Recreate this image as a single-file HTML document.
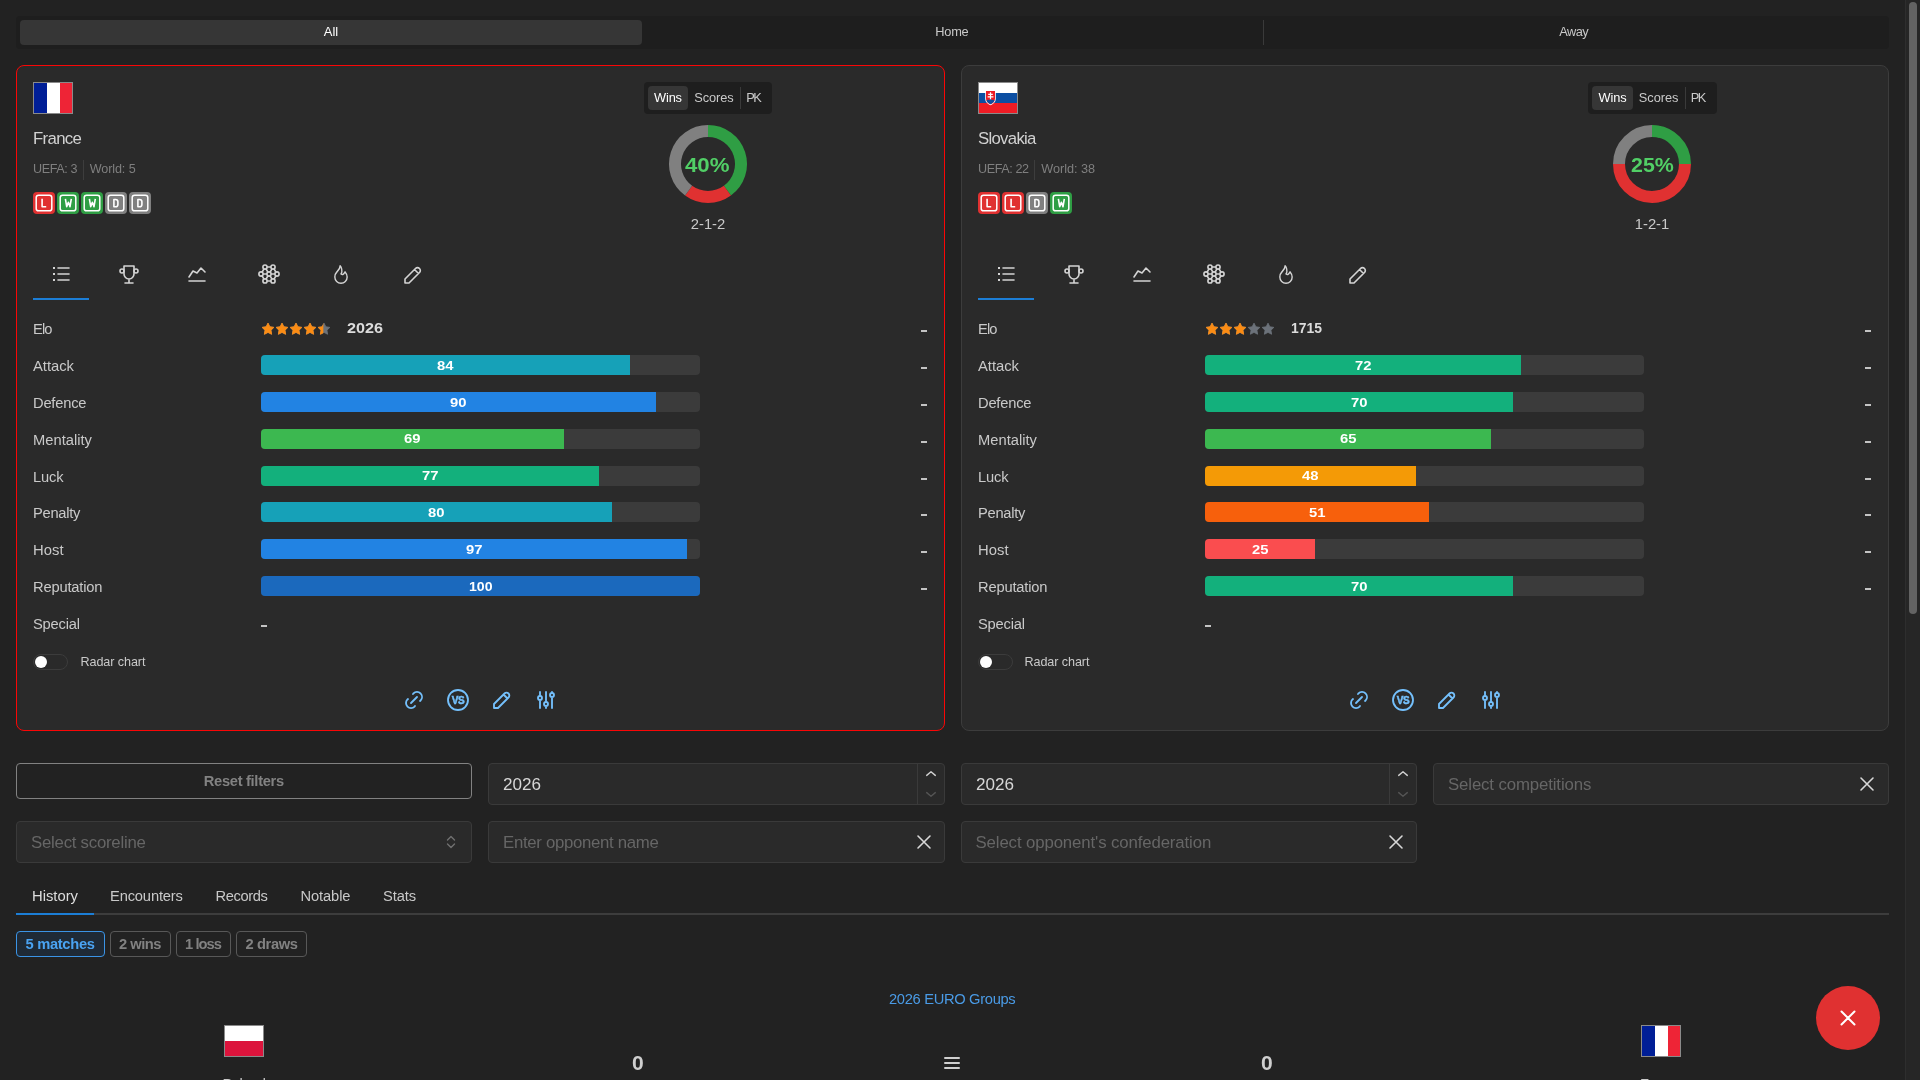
<!DOCTYPE html>
<html lang="en"><head><meta charset="utf-8"><title>Team comparison</title>
<style>
html,body{margin:0;padding:0;}
body{width:1920px;height:1080px;overflow:hidden;background:#222222;position:relative;font-family:"Liberation Sans",sans-serif;color:#c9c9c9;}
.b{position:absolute;box-sizing:border-box;display:block;}
.t{position:absolute;white-space:nowrap;line-height:1;font-family:"Liberation Sans",sans-serif;}
#root{position:absolute;left:0;top:0;width:1920px;height:1080px;will-change:transform;}
</style></head><body><div id="root">
<div class="b" style="left:16px;top:16px;width:1873px;height:33px;background:#1e1e1e;border-radius:4px;"></div>
<div class="b" style="left:20px;top:20px;width:622px;height:25px;background:#363636;border-radius:4px;"></div>
<div class="b" style="left:1263px;top:20px;width:1px;height:25px;background:#3a3a3a;"></div>
<div class="t" style="left:323.75px;top:25px;font-size:13.0px;letter-spacing:0.026px;color:#ffffff;">All</div>
<div class="t" style="left:935.25px;top:26px;font-size:12.8px;letter-spacing:-0.215px;color:#c9c9c9;">Home</div>
<div class="t" style="left:1559.25px;top:26px;font-size:12.8px;letter-spacing:-0.523px;color:#c9c9c9;">Away</div>
<div class="b" style="left:16px;top:65px;width:928.5px;height:666px;background:#2a2a2a;border:1px solid #fa0606;border-radius:8px;"></div>
<svg class="b" style="left:33px;top:82px;" width="40" height="32" viewBox="0 0 40 32"><rect width="40" height="32" fill="#8a8a8a"/><rect x="1" y="1" width="13" height="30" fill="#001e96"/><rect x="14" y="1" width="13" height="30" fill="#ffffff"/><rect x="27" y="1" width="12" height="30" fill="#ee2436"/></svg>
<div class="t" style="left:33.00px;top:131px;font-size:16.8px;letter-spacing:-0.658px;color:#d2d2d2;">France</div>
<div class="t" style="left:33.00px;top:163px;font-size:12.6px;letter-spacing:-0.403px;color:#7f7f7f;">UEFA: 3</div>
<div class="b" style="left:83px;top:160px;width:1px;height:20px;background:#3d3d3d;"></div>
<div class="t" style="left:89.70px;top:163px;font-size:12.6px;letter-spacing:-0.098px;color:#7f7f7f;">World: 5</div>
<svg class="b" style="left:33px;top:192px;" width="22" height="22" viewBox="0 0 22 22"><rect width="22" height="22" rx="4" fill="#e03131"/><rect x="3.200" y="3.200" width="15.600" height="15.600" rx="2.400" fill="none" stroke="#fff" stroke-width="1.500"/><path d="M9.100 6.700V14.700H13.200" fill="none" stroke="#fff" stroke-width="1.600" stroke-linecap="butt" stroke-linejoin="round"/></svg>
<svg class="b" style="left:57px;top:192px;" width="22" height="22" viewBox="0 0 22 22"><rect width="22" height="22" rx="4" fill="#2f9e44"/><rect x="3.200" y="3.200" width="15.600" height="15.600" rx="2.400" fill="none" stroke="#fff" stroke-width="1.500"/><path d="M8.400 6.800L9.700 14.700L11.350 10.300L13 14.700L14.300 6.800" fill="none" stroke="#fff" stroke-width="1.600" stroke-linecap="butt" stroke-linejoin="round"/></svg>
<svg class="b" style="left:81px;top:192px;" width="22" height="22" viewBox="0 0 22 22"><rect width="22" height="22" rx="4" fill="#2f9e44"/><rect x="3.200" y="3.200" width="15.600" height="15.600" rx="2.400" fill="none" stroke="#fff" stroke-width="1.500"/><path d="M8.400 6.800L9.700 14.700L11.350 10.300L13 14.700L14.300 6.800" fill="none" stroke="#fff" stroke-width="1.600" stroke-linecap="butt" stroke-linejoin="round"/></svg>
<svg class="b" style="left:105px;top:192px;" width="22" height="22" viewBox="0 0 22 22"><rect width="22" height="22" rx="4" fill="#808080"/><rect x="3.200" y="3.200" width="15.600" height="15.600" rx="2.400" fill="none" stroke="#fff" stroke-width="1.500"/><path d="M8.900 7.500V14.700H10.600Q12.900 14.700 12.900 12.400V9.800Q12.900 7.500 10.600 7.500Z" fill="none" stroke="#fff" stroke-width="1.600" stroke-linecap="butt" stroke-linejoin="round"/></svg>
<svg class="b" style="left:129px;top:192px;" width="22" height="22" viewBox="0 0 22 22"><rect width="22" height="22" rx="4" fill="#808080"/><rect x="3.200" y="3.200" width="15.600" height="15.600" rx="2.400" fill="none" stroke="#fff" stroke-width="1.500"/><path d="M8.900 7.500V14.700H10.600Q12.900 14.700 12.900 12.400V9.800Q12.900 7.500 10.600 7.500Z" fill="none" stroke="#fff" stroke-width="1.600" stroke-linecap="butt" stroke-linejoin="round"/></svg>
<div class="b" style="left:644px;top:82px;width:128px;height:32px;background:#1e1e1e;border-radius:4px;"></div>
<div class="b" style="left:648px;top:86px;width:40px;height:24px;background:#363636;border-radius:4px;"></div>
<div class="b" style="left:740px;top:87px;width:1px;height:22px;background:#3a3a3a;"></div>
<div class="t" style="left:654.00px;top:92px;font-size:12.8px;letter-spacing:-0.148px;color:#ffffff;">Wins</div>
<div class="t" style="left:694.25px;top:92px;font-size:12.8px;letter-spacing:-0.068px;color:#c9c9c9;">Scores</div>
<div class="t" style="left:746.25px;top:92px;font-size:12.8px;letter-spacing:-1.576px;color:#c9c9c9;">PK</div>
<svg class="b" style="left:0;top:0" width="1920" height="300" viewBox="0 0 1920 300"><path d="M708.000 131.000A33 33 0 0 1 727.397 190.698" fill="none" stroke="#2f9e44" stroke-width="12"/><path d="M727.397 190.698A33 33 0 0 1 688.603 190.698" fill="none" stroke="#e03131" stroke-width="12"/><path d="M688.603 190.698A33 33 0 0 1 708.000 131.000" fill="none" stroke="#808080" stroke-width="12"/></svg>
<div class="t" style="left:685.35px;top:156px;font-size:19.5px;color:#51cf66;transform-origin:0 0;transform:scaleX(1.1402);font-weight:700;">40%</div>
<div class="t" style="left:690.75px;top:217px;font-size:14.8px;letter-spacing:-0.013px;color:#c9c9c9;">2-1-2</div>
<svg class="b" style="left:49px;top:262px;" width="24" height="24" viewBox="0 0 24 24"><g fill="none" stroke="#d4d4d4" stroke-width="1.6" stroke-linecap="round" stroke-linejoin="round" stroke-width="2"><path d="M9 6h11M9 12h11M9 18h11"/></g><rect x="4" y="5" width="2" height="2" fill="#d4d4d4"/><rect x="4" y="11" width="2" height="2" fill="#d4d4d4"/><rect x="4" y="17" width="2" height="2" fill="#d4d4d4"/></svg>
<svg class="b" style="left:117px;top:262px;" width="24" height="24" viewBox="0 0 24 24"><g fill="none" stroke="#d4d4d4" stroke-width="1.6" stroke-linecap="round" stroke-linejoin="round"><path d="M8 21h8M12 17v4M7 4h10M17 4v8a5 5 0 0 1-10 0V4"/><circle cx="5" cy="9" r="2"/><circle cx="19" cy="9" r="2"/></g></svg>
<svg class="b" style="left:185px;top:262px;" width="24" height="24" viewBox="0 0 24 24"><g fill="none" stroke="#d4d4d4" stroke-width="1.6" stroke-linecap="round" stroke-linejoin="round"><path d="M4 19h16M4 15l4-6 4 2 4-5 4 4"/></g></svg>
<svg class="b" style="left:257px;top:262px;" width="24" height="24" viewBox="0 0 24 24"><g fill="none" stroke="#d4d4d4" stroke-width="1.6" stroke-linecap="round" stroke-linejoin="round"><path d="M20.00 12.00L12.00 12.00M20.00 12.00L16.00 18.93"/><path d="M16.00 18.93L12.00 12.00M16.00 18.93L8.00 18.93"/><path d="M8.00 18.93L12.00 12.00M8.00 18.93L4.00 12.00"/><path d="M4.00 12.00L12.00 12.00M4.00 12.00L8.00 5.07"/><path d="M8.00 5.07L12.00 12.00M8.00 5.07L16.00 5.07"/><path d="M16.00 5.07L12.00 12.00M16.00 5.07L20.00 12.00"/><circle cx="12.00" cy="12.00" r="2.1" fill="#2a2a2a"/><circle cx="20.00" cy="12.00" r="2.1" fill="#2a2a2a"/><circle cx="16.00" cy="18.93" r="2.1" fill="#2a2a2a"/><circle cx="8.00" cy="18.93" r="2.1" fill="#2a2a2a"/><circle cx="4.00" cy="12.00" r="2.1" fill="#2a2a2a"/><circle cx="8.00" cy="5.07" r="2.1" fill="#2a2a2a"/><circle cx="16.00" cy="5.07" r="2.1" fill="#2a2a2a"/></g></svg>
<svg class="b" style="left:329px;top:263px;" width="24" height="24" viewBox="0 0 24 24"><g fill="none" stroke="#d4d4d4" stroke-width="1.6" stroke-linecap="round" stroke-linejoin="round" transform="translate(12 11.500) scale(0.880 0.930) translate(-12 -11.500)" stroke-width="2.050"><path d="M12 10.941c2.333-3.308.167-7.823-1-8.941 0 3.395-2.235 5.299-3.667 6.706C5.903 10.114 5 12.327 5 14.294 5 17.998 8.134 21 12 21s7-3.002 7-6.706c0-1.712-1.232-4.403-2.333-5.588-2.084 3.353-3.257 3.353-4.667 2.235"/></g></svg>
<svg class="b" style="left:400.5px;top:262.5px;" width="24" height="24" viewBox="0 0 24 24"><g fill="none" stroke="#d4d4d4" stroke-width="1.6" stroke-linecap="round" stroke-linejoin="round"><path d="M4 20h4L18.5 9.5a2.828 2.828 0 1 0-4-4L4 16v4M13.5 6.5l4 4"/></g></svg>
<div class="b" style="left:33px;top:298px;width:56px;height:2px;background:#1c7ed6;"></div>
<div class="t" style="left:33.00px;top:322px;font-size:14.7px;letter-spacing:-0.874px;color:#c9c9c9;">Elo</div>
<div class="b" style="left:921px;top:330px;width:6px;height:2px;background:#c4c4c4;"></div>
<div class="t" style="left:33.00px;top:359px;font-size:14.8px;letter-spacing:-0.025px;color:#c9c9c9;">Attack</div>
<div class="b" style="left:921px;top:367px;width:6px;height:2px;background:#c4c4c4;"></div>
<div class="t" style="left:33.00px;top:396px;font-size:14.7px;letter-spacing:-0.209px;color:#c9c9c9;">Defence</div>
<div class="b" style="left:921px;top:404px;width:6px;height:2px;background:#c4c4c4;"></div>
<div class="t" style="left:33.00px;top:433px;font-size:14.7px;letter-spacing:0.022px;color:#c9c9c9;">Mentality</div>
<div class="b" style="left:921px;top:441px;width:6px;height:2px;background:#c4c4c4;"></div>
<div class="t" style="left:33.00px;top:470px;font-size:14.7px;letter-spacing:-0.184px;color:#c9c9c9;">Luck</div>
<div class="b" style="left:921px;top:478px;width:6px;height:2px;background:#c4c4c4;"></div>
<div class="t" style="left:33.00px;top:506px;font-size:14.7px;letter-spacing:-0.255px;color:#c9c9c9;">Penalty</div>
<div class="b" style="left:921px;top:514px;width:6px;height:2px;background:#c4c4c4;"></div>
<div class="t" style="left:33.00px;top:543px;font-size:14.8px;letter-spacing:0.023px;color:#c9c9c9;">Host</div>
<div class="b" style="left:921px;top:551px;width:6px;height:2px;background:#c4c4c4;"></div>
<div class="t" style="left:33.00px;top:580px;font-size:14.7px;letter-spacing:-0.178px;color:#c9c9c9;">Reputation</div>
<div class="b" style="left:921px;top:588px;width:6px;height:2px;background:#c4c4c4;"></div>
<div class="t" style="left:33.00px;top:617px;font-size:14.7px;letter-spacing:-0.202px;color:#c9c9c9;">Special</div>
<svg class="b" style="left:261px;top:322px;" width="14" height="14" viewBox="0 0 24 24"><path d="M12 17.75l-6.172 3.245 1.179-6.873-5-4.867 6.9-1L12 2.002l3.086 6.253 6.9 1-5 4.867 1.179 6.873z" fill="#6c727a" stroke="#6c727a" stroke-width="1.5" stroke-linejoin="round"/><clipPath id="c261_0"><rect x="0" y="0" width="24.00" height="24"/></clipPath><path clip-path="url(#c261_0)" d="M12 17.75l-6.172 3.245 1.179-6.873-5-4.867 6.9-1L12 2.002l3.086 6.253 6.9 1-5 4.867 1.179 6.873z" fill="#fb8c14" stroke="#fb8c14" stroke-width="1.5" stroke-linejoin="round"/></svg>
<svg class="b" style="left:275px;top:322px;" width="14" height="14" viewBox="0 0 24 24"><path d="M12 17.75l-6.172 3.245 1.179-6.873-5-4.867 6.9-1L12 2.002l3.086 6.253 6.9 1-5 4.867 1.179 6.873z" fill="#6c727a" stroke="#6c727a" stroke-width="1.5" stroke-linejoin="round"/><clipPath id="c261_1"><rect x="0" y="0" width="24.00" height="24"/></clipPath><path clip-path="url(#c261_1)" d="M12 17.75l-6.172 3.245 1.179-6.873-5-4.867 6.9-1L12 2.002l3.086 6.253 6.9 1-5 4.867 1.179 6.873z" fill="#fb8c14" stroke="#fb8c14" stroke-width="1.5" stroke-linejoin="round"/></svg>
<svg class="b" style="left:289px;top:322px;" width="14" height="14" viewBox="0 0 24 24"><path d="M12 17.75l-6.172 3.245 1.179-6.873-5-4.867 6.9-1L12 2.002l3.086 6.253 6.9 1-5 4.867 1.179 6.873z" fill="#6c727a" stroke="#6c727a" stroke-width="1.5" stroke-linejoin="round"/><clipPath id="c261_2"><rect x="0" y="0" width="24.00" height="24"/></clipPath><path clip-path="url(#c261_2)" d="M12 17.75l-6.172 3.245 1.179-6.873-5-4.867 6.9-1L12 2.002l3.086 6.253 6.9 1-5 4.867 1.179 6.873z" fill="#fb8c14" stroke="#fb8c14" stroke-width="1.5" stroke-linejoin="round"/></svg>
<svg class="b" style="left:303px;top:322px;" width="14" height="14" viewBox="0 0 24 24"><path d="M12 17.75l-6.172 3.245 1.179-6.873-5-4.867 6.9-1L12 2.002l3.086 6.253 6.9 1-5 4.867 1.179 6.873z" fill="#6c727a" stroke="#6c727a" stroke-width="1.5" stroke-linejoin="round"/><clipPath id="c261_3"><rect x="0" y="0" width="24.00" height="24"/></clipPath><path clip-path="url(#c261_3)" d="M12 17.75l-6.172 3.245 1.179-6.873-5-4.867 6.9-1L12 2.002l3.086 6.253 6.9 1-5 4.867 1.179 6.873z" fill="#fb8c14" stroke="#fb8c14" stroke-width="1.5" stroke-linejoin="round"/></svg>
<svg class="b" style="left:317px;top:322px;" width="14" height="14" viewBox="0 0 24 24"><path d="M12 17.75l-6.172 3.245 1.179-6.873-5-4.867 6.9-1L12 2.002l3.086 6.253 6.9 1-5 4.867 1.179 6.873z" fill="#6c727a" stroke="#6c727a" stroke-width="1.5" stroke-linejoin="round"/><clipPath id="c261_4"><rect x="0" y="0" width="10.80" height="24"/></clipPath><path clip-path="url(#c261_4)" d="M12 17.75l-6.172 3.245 1.179-6.873-5-4.867 6.9-1L12 2.002l3.086 6.253 6.9 1-5 4.867 1.179 6.873z" fill="#fb8c14" stroke="#fb8c14" stroke-width="1.5" stroke-linejoin="round"/></svg>
<div class="t" style="left:346.50px;top:321px;font-size:14.6px;color:#dcdcdc;transform-origin:0 0;transform:scaleX(1.1084);font-weight:700;">2026</div>
<div class="b" style="left:261px;top:355px;width:439px;height:20px;background:#3b3b3b;border-radius:4px;"></div>
<div class="b" style="left:261px;top:355px;width:369px;height:20px;background:#16a1b8;border-radius:4px 0 0 4px;"></div>
<div class="t" style="left:437.25px;top:359px;font-size:13.2px;color:#ffffff;transform-origin:0 0;transform:scaleX(1.1238);font-weight:700;">84</div>
<div class="b" style="left:261px;top:392px;width:439px;height:20px;background:#3b3b3b;border-radius:4px;"></div>
<div class="b" style="left:261px;top:392px;width:395px;height:20px;background:#2283e3;border-radius:4px 0 0 4px;"></div>
<div class="t" style="left:450.25px;top:396px;font-size:13.2px;color:#ffffff;transform-origin:0 0;transform:scaleX(1.1238);font-weight:700;">90</div>
<div class="b" style="left:261px;top:429px;width:439px;height:20px;background:#3b3b3b;border-radius:4px;"></div>
<div class="b" style="left:261px;top:429px;width:303px;height:20px;background:#3cb850;border-radius:4px 0 0 4px;"></div>
<div class="t" style="left:404.25px;top:432px;font-size:13.2px;color:#ffffff;transform-origin:0 0;transform:scaleX(1.1238);font-weight:700;">69</div>
<div class="b" style="left:261px;top:466px;width:439px;height:20px;background:#3b3b3b;border-radius:4px;"></div>
<div class="b" style="left:261px;top:466px;width:338px;height:20px;background:#13b07c;border-radius:4px 0 0 4px;"></div>
<div class="t" style="left:421.75px;top:469px;font-size:13.2px;color:#ffffff;transform-origin:0 0;transform:scaleX(1.1238);font-weight:700;">77</div>
<div class="b" style="left:261px;top:502px;width:439px;height:20px;background:#3b3b3b;border-radius:4px;"></div>
<div class="b" style="left:261px;top:502px;width:351px;height:20px;background:#16a1b8;border-radius:4px 0 0 4px;"></div>
<div class="t" style="left:428.25px;top:506px;font-size:13.2px;color:#ffffff;transform-origin:0 0;transform:scaleX(1.1238);font-weight:700;">80</div>
<div class="b" style="left:261px;top:539px;width:439px;height:20px;background:#3b3b3b;border-radius:4px;"></div>
<div class="b" style="left:261px;top:539px;width:426px;height:20px;background:#2283e3;border-radius:4px 0 0 4px;"></div>
<div class="t" style="left:465.75px;top:543px;font-size:13.2px;color:#ffffff;transform-origin:0 0;transform:scaleX(1.1238);font-weight:700;">97</div>
<div class="b" style="left:261px;top:576px;width:439px;height:20px;background:#3b3b3b;border-radius:4px;"></div>
<div class="b" style="left:261px;top:576px;width:439px;height:20px;background:#1b69bd;border-radius:4px;"></div>
<div class="t" style="left:468.75px;top:580px;font-size:13.2px;color:#ffffff;transform-origin:0 0;transform:scaleX(1.0670);font-weight:700;">100</div>
<div class="b" style="left:261px;top:625px;width:6px;height:2px;background:#c4c4c4;"></div>
<div class="b" style="left:33px;top:654px;width:35px;height:16px;background:#2a2a2a;border:1px solid #3c3c3c;border-radius:8px;"></div>
<div class="b" style="left:35px;top:656px;width:12px;height:12px;background:#ffffff;border-radius:6px;"></div>
<div class="t" style="left:80.50px;top:656px;font-size:12.6px;letter-spacing:-0.083px;color:#c9c9c9;">Radar chart</div>
<svg class="b" style="left:402px;top:688px;" width="24" height="24" viewBox="0 0 24 24"><g fill="none" stroke="#74c0fc" stroke-width="1.850" stroke-linecap="round" stroke-linejoin="round"><path d="M9 15l6-6M11 6l.463-.536a5 5 0 0 1 7.071 7.072L18 13M13 18l-.397.534a5.068 5.068 0 0 1-7.127 0 4.972 4.972 0 0 1 0-7.071L6 11"/></g></svg>
<svg class="b" style="left:446px;top:688px;" width="24" height="24" viewBox="0 0 24 24"><g fill="none" stroke="#74c0fc" stroke-width="1.850" stroke-linecap="round" stroke-linejoin="round"><circle cx="12" cy="12" r="10"/></g><text x="12" y="15.6" text-anchor="middle" font-family="Liberation Sans, sans-serif" font-weight="700" font-size="10" letter-spacing="-0.300" fill="#74c0fc" stroke="#74c0fc" stroke-width="0.450">VS</text></svg>
<svg class="b" style="left:490px;top:688px;" width="24" height="24" viewBox="0 0 24 24"><g fill="none" stroke="#74c0fc" stroke-width="1.850" stroke-linecap="round" stroke-linejoin="round"><path d="M4 20h4L18.5 9.5a2.828 2.828 0 1 0-4-4L4 16v4M13.5 6.5l4 4"/></g></svg>
<svg class="b" style="left:534px;top:688px;" width="24" height="24" viewBox="0 0 24 24"><g fill="none" stroke="#74c0fc" stroke-width="1.850" stroke-linecap="round" stroke-linejoin="round"><path d="M4 10a2 2 0 1 0 4 0a2 2 0 0 0-4 0M6 4v4M6 12v8M10 16a2 2 0 1 0 4 0a2 2 0 0 0-4 0M12 4v10M12 18v2M16 7a2 2 0 1 0 4 0a2 2 0 0 0-4 0M18 4v1M18 9v11"/></g></svg>
<div class="b" style="left:960.5px;top:65px;width:928.5px;height:666px;background:#2a2a2a;border:1px solid #3c3c3c;border-radius:8px;"></div>
<svg class="b" style="left:978px;top:82px;" width="40" height="32" viewBox="0 0 40 32"><rect width="40" height="32" fill="#8a8a8a"/><rect x="1" y="1" width="38" height="10" fill="#ffffff"/><rect x="1" y="11" width="38" height="10" fill="#0b4ea2"/><rect x="1" y="21" width="38" height="10" fill="#ee1c25"/><path d="M7.2 8.2h10.6v8.2c0 3.6-2.6 5.6-5.3 6.8-2.7-1.2-5.3-3.2-5.3-6.8z" fill="#ffffff"/><path d="M8 9h9v7.4c0 3-2.1 4.8-4.5 5.9C10.100 21.2 8 19.400 8 16.400z" fill="#ee1c25"/><path d="M11.900 10.200h1.200v1.600h1.700v1.100h-1.700v1.300h2.300v1.200h-2.300v3h-1.200v-3H9.600v-1.200h2.300v-1.300h-1.700v-1.100h1.700z" fill="#ffffff"/><path d="M8.500 18.600c.8-1 1.700-1.200 2.500-.5.700-1 2.100-1 3 0 .8-.7 1.700-.5 2.500.5-.8 1.700-2.300 2.900-4 3.700-1.700-.8-3.200-2-4-3.700z" fill="#0b4ea2"/></svg>
<div class="t" style="left:978.00px;top:131px;font-size:16.8px;letter-spacing:-0.715px;color:#d2d2d2;">Slovakia</div>
<div class="t" style="left:978.00px;top:163px;font-size:12.6px;letter-spacing:-0.418px;color:#7f7f7f;">UEFA: 22</div>
<div class="b" style="left:1034px;top:160px;width:1px;height:20px;background:#3d3d3d;"></div>
<div class="t" style="left:1041.20px;top:163px;font-size:12.7px;letter-spacing:-0.015px;color:#7f7f7f;">World: 38</div>
<svg class="b" style="left:978px;top:192px;" width="22" height="22" viewBox="0 0 22 22"><rect width="22" height="22" rx="4" fill="#e03131"/><rect x="3.200" y="3.200" width="15.600" height="15.600" rx="2.400" fill="none" stroke="#fff" stroke-width="1.500"/><path d="M9.100 6.700V14.700H13.200" fill="none" stroke="#fff" stroke-width="1.600" stroke-linecap="butt" stroke-linejoin="round"/></svg>
<svg class="b" style="left:1002px;top:192px;" width="22" height="22" viewBox="0 0 22 22"><rect width="22" height="22" rx="4" fill="#e03131"/><rect x="3.200" y="3.200" width="15.600" height="15.600" rx="2.400" fill="none" stroke="#fff" stroke-width="1.500"/><path d="M9.100 6.700V14.700H13.200" fill="none" stroke="#fff" stroke-width="1.600" stroke-linecap="butt" stroke-linejoin="round"/></svg>
<svg class="b" style="left:1026px;top:192px;" width="22" height="22" viewBox="0 0 22 22"><rect width="22" height="22" rx="4" fill="#808080"/><rect x="3.200" y="3.200" width="15.600" height="15.600" rx="2.400" fill="none" stroke="#fff" stroke-width="1.500"/><path d="M8.900 7.500V14.700H10.600Q12.900 14.700 12.900 12.400V9.800Q12.900 7.500 10.600 7.500Z" fill="none" stroke="#fff" stroke-width="1.600" stroke-linecap="butt" stroke-linejoin="round"/></svg>
<svg class="b" style="left:1050px;top:192px;" width="22" height="22" viewBox="0 0 22 22"><rect width="22" height="22" rx="4" fill="#2f9e44"/><rect x="3.200" y="3.200" width="15.600" height="15.600" rx="2.400" fill="none" stroke="#fff" stroke-width="1.500"/><path d="M8.400 6.800L9.700 14.700L11.350 10.300L13 14.700L14.300 6.800" fill="none" stroke="#fff" stroke-width="1.600" stroke-linecap="butt" stroke-linejoin="round"/></svg>
<div class="b" style="left:1588px;top:82px;width:129px;height:32px;background:#1e1e1e;border-radius:4px;"></div>
<div class="b" style="left:1592px;top:86px;width:41px;height:24px;background:#363636;border-radius:4px;"></div>
<div class="b" style="left:1685px;top:87px;width:1px;height:22px;background:#3a3a3a;"></div>
<div class="t" style="left:1598.60px;top:92px;font-size:12.8px;letter-spacing:-0.148px;color:#ffffff;">Wins</div>
<div class="t" style="left:1638.85px;top:92px;font-size:12.8px;letter-spacing:-0.068px;color:#c9c9c9;">Scores</div>
<div class="t" style="left:1690.85px;top:92px;font-size:12.8px;letter-spacing:-1.576px;color:#c9c9c9;">PK</div>
<svg class="b" style="left:0;top:0" width="1920" height="300" viewBox="0 0 1920 300"><path d="M1652.000 131.000A33 33 0 0 1 1685.000 164.000" fill="none" stroke="#2f9e44" stroke-width="12"/><path d="M1685.000 164.000A33 33 0 0 1 1619.000 164.000" fill="none" stroke="#e03131" stroke-width="12"/><path d="M1619.000 164.000A33 33 0 0 1 1652.000 131.000" fill="none" stroke="#808080" stroke-width="12"/></svg>
<div class="t" style="left:1630.90px;top:156px;font-size:19.5px;color:#51cf66;transform-origin:0 0;transform:scaleX(1.0966);font-weight:700;">25%</div>
<div class="t" style="left:1634.75px;top:217px;font-size:14.8px;letter-spacing:-0.013px;color:#c9c9c9;">1-2-1</div>
<svg class="b" style="left:994px;top:262px;" width="24" height="24" viewBox="0 0 24 24"><g fill="none" stroke="#d4d4d4" stroke-width="1.6" stroke-linecap="round" stroke-linejoin="round" stroke-width="2"><path d="M9 6h11M9 12h11M9 18h11"/></g><rect x="4" y="5" width="2" height="2" fill="#d4d4d4"/><rect x="4" y="11" width="2" height="2" fill="#d4d4d4"/><rect x="4" y="17" width="2" height="2" fill="#d4d4d4"/></svg>
<svg class="b" style="left:1062px;top:262px;" width="24" height="24" viewBox="0 0 24 24"><g fill="none" stroke="#d4d4d4" stroke-width="1.6" stroke-linecap="round" stroke-linejoin="round"><path d="M8 21h8M12 17v4M7 4h10M17 4v8a5 5 0 0 1-10 0V4"/><circle cx="5" cy="9" r="2"/><circle cx="19" cy="9" r="2"/></g></svg>
<svg class="b" style="left:1130px;top:262px;" width="24" height="24" viewBox="0 0 24 24"><g fill="none" stroke="#d4d4d4" stroke-width="1.6" stroke-linecap="round" stroke-linejoin="round"><path d="M4 19h16M4 15l4-6 4 2 4-5 4 4"/></g></svg>
<svg class="b" style="left:1202px;top:262px;" width="24" height="24" viewBox="0 0 24 24"><g fill="none" stroke="#d4d4d4" stroke-width="1.6" stroke-linecap="round" stroke-linejoin="round"><path d="M20.00 12.00L12.00 12.00M20.00 12.00L16.00 18.93"/><path d="M16.00 18.93L12.00 12.00M16.00 18.93L8.00 18.93"/><path d="M8.00 18.93L12.00 12.00M8.00 18.93L4.00 12.00"/><path d="M4.00 12.00L12.00 12.00M4.00 12.00L8.00 5.07"/><path d="M8.00 5.07L12.00 12.00M8.00 5.07L16.00 5.07"/><path d="M16.00 5.07L12.00 12.00M16.00 5.07L20.00 12.00"/><circle cx="12.00" cy="12.00" r="2.1" fill="#2a2a2a"/><circle cx="20.00" cy="12.00" r="2.1" fill="#2a2a2a"/><circle cx="16.00" cy="18.93" r="2.1" fill="#2a2a2a"/><circle cx="8.00" cy="18.93" r="2.1" fill="#2a2a2a"/><circle cx="4.00" cy="12.00" r="2.1" fill="#2a2a2a"/><circle cx="8.00" cy="5.07" r="2.1" fill="#2a2a2a"/><circle cx="16.00" cy="5.07" r="2.1" fill="#2a2a2a"/></g></svg>
<svg class="b" style="left:1274px;top:263px;" width="24" height="24" viewBox="0 0 24 24"><g fill="none" stroke="#d4d4d4" stroke-width="1.6" stroke-linecap="round" stroke-linejoin="round" transform="translate(12 11.500) scale(0.880 0.930) translate(-12 -11.500)" stroke-width="2.050"><path d="M12 10.941c2.333-3.308.167-7.823-1-8.941 0 3.395-2.235 5.299-3.667 6.706C5.903 10.114 5 12.327 5 14.294 5 17.998 8.134 21 12 21s7-3.002 7-6.706c0-1.712-1.232-4.403-2.333-5.588-2.084 3.353-3.257 3.353-4.667 2.235"/></g></svg>
<svg class="b" style="left:1345.5px;top:262.5px;" width="24" height="24" viewBox="0 0 24 24"><g fill="none" stroke="#d4d4d4" stroke-width="1.6" stroke-linecap="round" stroke-linejoin="round"><path d="M4 20h4L18.5 9.5a2.828 2.828 0 1 0-4-4L4 16v4M13.5 6.5l4 4"/></g></svg>
<div class="b" style="left:978px;top:298px;width:56px;height:2px;background:#1c7ed6;"></div>
<div class="t" style="left:978.00px;top:322px;font-size:14.7px;letter-spacing:-0.874px;color:#c9c9c9;">Elo</div>
<div class="b" style="left:1865px;top:330px;width:6px;height:2px;background:#c4c4c4;"></div>
<div class="t" style="left:978.00px;top:359px;font-size:14.8px;letter-spacing:-0.025px;color:#c9c9c9;">Attack</div>
<div class="b" style="left:1865px;top:367px;width:6px;height:2px;background:#c4c4c4;"></div>
<div class="t" style="left:978.00px;top:396px;font-size:14.7px;letter-spacing:-0.209px;color:#c9c9c9;">Defence</div>
<div class="b" style="left:1865px;top:404px;width:6px;height:2px;background:#c4c4c4;"></div>
<div class="t" style="left:978.00px;top:433px;font-size:14.7px;letter-spacing:0.022px;color:#c9c9c9;">Mentality</div>
<div class="b" style="left:1865px;top:441px;width:6px;height:2px;background:#c4c4c4;"></div>
<div class="t" style="left:978.00px;top:470px;font-size:14.7px;letter-spacing:-0.184px;color:#c9c9c9;">Luck</div>
<div class="b" style="left:1865px;top:478px;width:6px;height:2px;background:#c4c4c4;"></div>
<div class="t" style="left:978.00px;top:506px;font-size:14.7px;letter-spacing:-0.255px;color:#c9c9c9;">Penalty</div>
<div class="b" style="left:1865px;top:514px;width:6px;height:2px;background:#c4c4c4;"></div>
<div class="t" style="left:978.00px;top:543px;font-size:14.8px;letter-spacing:0.023px;color:#c9c9c9;">Host</div>
<div class="b" style="left:1865px;top:551px;width:6px;height:2px;background:#c4c4c4;"></div>
<div class="t" style="left:978.00px;top:580px;font-size:14.7px;letter-spacing:-0.178px;color:#c9c9c9;">Reputation</div>
<div class="b" style="left:1865px;top:588px;width:6px;height:2px;background:#c4c4c4;"></div>
<div class="t" style="left:978.00px;top:617px;font-size:14.7px;letter-spacing:-0.202px;color:#c9c9c9;">Special</div>
<svg class="b" style="left:1205px;top:322px;" width="14" height="14" viewBox="0 0 24 24"><path d="M12 17.75l-6.172 3.245 1.179-6.873-5-4.867 6.9-1L12 2.002l3.086 6.253 6.9 1-5 4.867 1.179 6.873z" fill="#6c727a" stroke="#6c727a" stroke-width="1.5" stroke-linejoin="round"/><clipPath id="c1205_0"><rect x="0" y="0" width="24.00" height="24"/></clipPath><path clip-path="url(#c1205_0)" d="M12 17.75l-6.172 3.245 1.179-6.873-5-4.867 6.9-1L12 2.002l3.086 6.253 6.9 1-5 4.867 1.179 6.873z" fill="#fb8c14" stroke="#fb8c14" stroke-width="1.5" stroke-linejoin="round"/></svg>
<svg class="b" style="left:1219px;top:322px;" width="14" height="14" viewBox="0 0 24 24"><path d="M12 17.75l-6.172 3.245 1.179-6.873-5-4.867 6.9-1L12 2.002l3.086 6.253 6.9 1-5 4.867 1.179 6.873z" fill="#6c727a" stroke="#6c727a" stroke-width="1.5" stroke-linejoin="round"/><clipPath id="c1205_1"><rect x="0" y="0" width="24.00" height="24"/></clipPath><path clip-path="url(#c1205_1)" d="M12 17.75l-6.172 3.245 1.179-6.873-5-4.867 6.9-1L12 2.002l3.086 6.253 6.9 1-5 4.867 1.179 6.873z" fill="#fb8c14" stroke="#fb8c14" stroke-width="1.5" stroke-linejoin="round"/></svg>
<svg class="b" style="left:1233px;top:322px;" width="14" height="14" viewBox="0 0 24 24"><path d="M12 17.75l-6.172 3.245 1.179-6.873-5-4.867 6.9-1L12 2.002l3.086 6.253 6.9 1-5 4.867 1.179 6.873z" fill="#6c727a" stroke="#6c727a" stroke-width="1.5" stroke-linejoin="round"/><clipPath id="c1205_2"><rect x="0" y="0" width="24.00" height="24"/></clipPath><path clip-path="url(#c1205_2)" d="M12 17.75l-6.172 3.245 1.179-6.873-5-4.867 6.9-1L12 2.002l3.086 6.253 6.9 1-5 4.867 1.179 6.873z" fill="#fb8c14" stroke="#fb8c14" stroke-width="1.5" stroke-linejoin="round"/></svg>
<svg class="b" style="left:1247px;top:322px;" width="14" height="14" viewBox="0 0 24 24"><path d="M12 17.75l-6.172 3.245 1.179-6.873-5-4.867 6.9-1L12 2.002l3.086 6.253 6.9 1-5 4.867 1.179 6.873z" fill="#6c727a" stroke="#6c727a" stroke-width="1.5" stroke-linejoin="round"/></svg>
<svg class="b" style="left:1261px;top:322px;" width="14" height="14" viewBox="0 0 24 24"><path d="M12 17.75l-6.172 3.245 1.179-6.873-5-4.867 6.9-1L12 2.002l3.086 6.253 6.9 1-5 4.867 1.179 6.873z" fill="#6c727a" stroke="#6c727a" stroke-width="1.5" stroke-linejoin="round"/></svg>
<div class="t" style="left:1290.50px;top:321px;font-size:14.6px;color:#dcdcdc;transform-origin:0 0;transform:scaleX(0.9544);font-weight:700;">1715</div>
<div class="b" style="left:1205px;top:355px;width:439px;height:20px;background:#3b3b3b;border-radius:4px;"></div>
<div class="b" style="left:1205px;top:355px;width:316px;height:20px;background:#13b07c;border-radius:4px 0 0 4px;"></div>
<div class="t" style="left:1354.75px;top:359px;font-size:13.2px;color:#ffffff;transform-origin:0 0;transform:scaleX(1.1238);font-weight:700;">72</div>
<div class="b" style="left:1205px;top:392px;width:439px;height:20px;background:#3b3b3b;border-radius:4px;"></div>
<div class="b" style="left:1205px;top:392px;width:308px;height:20px;background:#13b07c;border-radius:4px 0 0 4px;"></div>
<div class="t" style="left:1350.75px;top:396px;font-size:13.2px;color:#ffffff;transform-origin:0 0;transform:scaleX(1.1238);font-weight:700;">70</div>
<div class="b" style="left:1205px;top:429px;width:439px;height:20px;background:#3b3b3b;border-radius:4px;"></div>
<div class="b" style="left:1205px;top:429px;width:286px;height:20px;background:#3cb850;border-radius:4px 0 0 4px;"></div>
<div class="t" style="left:1339.75px;top:432px;font-size:13.2px;color:#ffffff;transform-origin:0 0;transform:scaleX(1.1238);font-weight:700;">65</div>
<div class="b" style="left:1205px;top:466px;width:439px;height:20px;background:#3b3b3b;border-radius:4px;"></div>
<div class="b" style="left:1205px;top:466px;width:211px;height:20px;background:#f49a06;border-radius:4px 0 0 4px;"></div>
<div class="t" style="left:1302.25px;top:469px;font-size:13.2px;color:#ffffff;transform-origin:0 0;transform:scaleX(1.1238);font-weight:700;">48</div>
<div class="b" style="left:1205px;top:502px;width:439px;height:20px;background:#3b3b3b;border-radius:4px;"></div>
<div class="b" style="left:1205px;top:502px;width:224px;height:20px;background:#f7600c;border-radius:4px 0 0 4px;"></div>
<div class="t" style="left:1308.75px;top:506px;font-size:13.2px;color:#ffffff;transform-origin:0 0;transform:scaleX(1.1238);font-weight:700;">51</div>
<div class="b" style="left:1205px;top:539px;width:439px;height:20px;background:#3b3b3b;border-radius:4px;"></div>
<div class="b" style="left:1205px;top:539px;width:110px;height:20px;background:#fa4d4f;border-radius:4px 0 0 4px;"></div>
<div class="t" style="left:1251.75px;top:543px;font-size:13.2px;color:#ffffff;transform-origin:0 0;transform:scaleX(1.1238);font-weight:700;">25</div>
<div class="b" style="left:1205px;top:576px;width:439px;height:20px;background:#3b3b3b;border-radius:4px;"></div>
<div class="b" style="left:1205px;top:576px;width:308px;height:20px;background:#13b07c;border-radius:4px 0 0 4px;"></div>
<div class="t" style="left:1350.75px;top:580px;font-size:13.2px;color:#ffffff;transform-origin:0 0;transform:scaleX(1.1238);font-weight:700;">70</div>
<div class="b" style="left:1205px;top:625px;width:6px;height:2px;background:#c4c4c4;"></div>
<div class="b" style="left:978px;top:654px;width:35px;height:16px;background:#2a2a2a;border:1px solid #3c3c3c;border-radius:8px;"></div>
<div class="b" style="left:980px;top:656px;width:12px;height:12px;background:#ffffff;border-radius:6px;"></div>
<div class="t" style="left:1024.50px;top:656px;font-size:12.6px;letter-spacing:-0.083px;color:#c9c9c9;">Radar chart</div>
<svg class="b" style="left:1347px;top:688px;" width="24" height="24" viewBox="0 0 24 24"><g fill="none" stroke="#74c0fc" stroke-width="1.850" stroke-linecap="round" stroke-linejoin="round"><path d="M9 15l6-6M11 6l.463-.536a5 5 0 0 1 7.071 7.072L18 13M13 18l-.397.534a5.068 5.068 0 0 1-7.127 0 4.972 4.972 0 0 1 0-7.071L6 11"/></g></svg>
<svg class="b" style="left:1391px;top:688px;" width="24" height="24" viewBox="0 0 24 24"><g fill="none" stroke="#74c0fc" stroke-width="1.850" stroke-linecap="round" stroke-linejoin="round"><circle cx="12" cy="12" r="10"/></g><text x="12" y="15.6" text-anchor="middle" font-family="Liberation Sans, sans-serif" font-weight="700" font-size="10" letter-spacing="-0.300" fill="#74c0fc" stroke="#74c0fc" stroke-width="0.450">VS</text></svg>
<svg class="b" style="left:1435px;top:688px;" width="24" height="24" viewBox="0 0 24 24"><g fill="none" stroke="#74c0fc" stroke-width="1.850" stroke-linecap="round" stroke-linejoin="round"><path d="M4 20h4L18.5 9.5a2.828 2.828 0 1 0-4-4L4 16v4M13.5 6.5l4 4"/></g></svg>
<svg class="b" style="left:1479px;top:688px;" width="24" height="24" viewBox="0 0 24 24"><g fill="none" stroke="#74c0fc" stroke-width="1.850" stroke-linecap="round" stroke-linejoin="round"><path d="M4 10a2 2 0 1 0 4 0a2 2 0 0 0-4 0M6 4v4M6 12v8M10 16a2 2 0 1 0 4 0a2 2 0 0 0-4 0M12 4v10M12 18v2M16 7a2 2 0 1 0 4 0a2 2 0 0 0-4 0M18 4v1M18 9v11"/></g></svg>
<div class="b" style="left:16px;top:763px;width:456px;height:36px;border:1px solid #828282;border-radius:4px;"></div>
<div class="t" style="left:203.75px;top:774px;font-size:14.7px;letter-spacing:-0.305px;color:#828282;font-weight:700;">Reset filters</div>
<div class="b" style="left:488px;top:763px;width:457px;height:42px;background:#2a2a2a;border:1px solid #3a3a3a;border-radius:4px;"></div>
<div class="t" style="left:503.00px;top:776px;font-size:17.1px;letter-spacing:-0.014px;color:#d6d6d6;">2026</div>
<div class="b" style="left:917px;top:764px;width:1px;height:40px;background:#3a3a3a;"></div>
<svg class="b" style="left:923px;top:766px;" width="16" height="16" viewBox="0 0 16 16"><path d="M3.700 9.400L8 5.800l4.300 3.600" stroke="#d0d0d0" stroke-width="1.4" stroke-linecap="round" stroke-linejoin="round" fill="none"/></svg>
<svg class="b" style="left:923px;top:786px;" width="16" height="16" viewBox="0 0 16 16"><path d="M3.700 6.600L8 10.200l4.300-3.600" stroke="#545454" stroke-width="1.4" stroke-linecap="round" stroke-linejoin="round" fill="none"/></svg>
<div class="b" style="left:961px;top:763px;width:456px;height:42px;background:#2a2a2a;border:1px solid #3a3a3a;border-radius:4px;"></div>
<div class="t" style="left:976.00px;top:776px;font-size:17.1px;letter-spacing:-0.014px;color:#d6d6d6;">2026</div>
<div class="b" style="left:1389px;top:764px;width:1px;height:40px;background:#3a3a3a;"></div>
<svg class="b" style="left:1395px;top:766px;" width="16" height="16" viewBox="0 0 16 16"><path d="M3.700 9.400L8 5.800l4.300 3.600" stroke="#d0d0d0" stroke-width="1.4" stroke-linecap="round" stroke-linejoin="round" fill="none"/></svg>
<svg class="b" style="left:1395px;top:786px;" width="16" height="16" viewBox="0 0 16 16"><path d="M3.700 6.600L8 10.200l4.300-3.600" stroke="#545454" stroke-width="1.4" stroke-linecap="round" stroke-linejoin="round" fill="none"/></svg>
<div class="b" style="left:1433px;top:763px;width:456px;height:42px;background:#2a2a2a;border:1px solid #3a3a3a;border-radius:4px;"></div>
<div class="t" style="left:1448.00px;top:777px;font-size:16.8px;letter-spacing:-0.121px;color:#666666;">Select competitions</div>
<svg class="b" style="left:1859px;top:776px;" width="16" height="16" viewBox="0 0 16 16"><path d="M2 2L14 14M14 2L2 14" stroke="#d8d8d8" stroke-width="1.6" stroke-linecap="round" fill="none"/></svg>
<div class="b" style="left:16px;top:821px;width:456px;height:42px;background:#2a2a2a;border:1px solid #3a3a3a;border-radius:4px;"></div>
<div class="t" style="left:31.00px;top:835px;font-size:16.8px;letter-spacing:-0.240px;color:#666666;">Select scoreline</div>
<svg class="b" style="left:443px;top:833px;" width="16" height="18" viewBox="0 0 16 18"><path d="M4.500 7L8 3.500 11.500 7M4.500 11L8 14.500 11.500 11" stroke="#707070" stroke-width="1.4" stroke-linecap="round" stroke-linejoin="round" fill="none"/></svg>
<div class="b" style="left:488px;top:821px;width:457px;height:42px;background:#2a2a2a;border:1px solid #3a3a3a;border-radius:4px;"></div>
<div class="t" style="left:503.00px;top:835px;font-size:16.8px;letter-spacing:-0.311px;color:#666666;">Enter opponent name</div>
<svg class="b" style="left:916px;top:834px;" width="16" height="16" viewBox="0 0 16 16"><path d="M2 2L14 14M14 2L2 14" stroke="#d8d8d8" stroke-width="1.6" stroke-linecap="round" fill="none"/></svg>
<div class="b" style="left:961px;top:821px;width:456px;height:42px;background:#2a2a2a;border:1px solid #3a3a3a;border-radius:4px;"></div>
<div class="t" style="left:975.50px;top:835px;font-size:16.8px;letter-spacing:-0.117px;color:#666666;">Select opponent's confederation</div>
<svg class="b" style="left:1388px;top:834px;" width="16" height="16" viewBox="0 0 16 16"><path d="M2 2L14 14M14 2L2 14" stroke="#d8d8d8" stroke-width="1.6" stroke-linecap="round" fill="none"/></svg>
<div class="b" style="left:16px;top:913px;width:1873px;height:2px;background:#3d3d3d;"></div>
<div class="b" style="left:16px;top:913px;width:78px;height:2px;background:#1c7ed6;"></div>
<div class="t" style="left:32.00px;top:889px;font-size:14.8px;letter-spacing:-0.008px;color:#dddddd;">History</div>
<div class="t" style="left:110.00px;top:889px;font-size:14.7px;letter-spacing:-0.152px;color:#c9c9c9;">Encounters</div>
<div class="t" style="left:215.50px;top:889px;font-size:14.7px;letter-spacing:-0.373px;color:#c9c9c9;">Records</div>
<div class="t" style="left:300.50px;top:889px;font-size:14.7px;letter-spacing:-0.112px;color:#c9c9c9;">Notable</div>
<div class="t" style="left:383.00px;top:889px;font-size:14.7px;letter-spacing:-0.125px;color:#c9c9c9;">Stats</div>
<div class="b" style="left:16px;top:931px;width:89px;height:26px;background:#1f2a36;border:1px solid #3b94e6;border-radius:4px;"></div>
<div class="t" style="left:25.50px;top:937px;font-size:14.7px;letter-spacing:-0.301px;color:#4aa3f2;font-weight:700;">5 matches</div>
<div class="b" style="left:110px;top:931px;width:61px;height:26px;border:1px solid #585858;border-radius:4px;"></div>
<div class="t" style="left:119.00px;top:937px;font-size:14.7px;letter-spacing:-0.487px;color:#828282;font-weight:700;">2 wins</div>
<div class="b" style="left:176px;top:931px;width:55px;height:26px;border:1px solid #585858;border-radius:4px;"></div>
<div class="t" style="left:185.00px;top:937px;font-size:14.7px;letter-spacing:-0.935px;color:#828282;font-weight:700;">1 loss</div>
<div class="b" style="left:236px;top:931px;width:71px;height:26px;border:1px solid #585858;border-radius:4px;"></div>
<div class="t" style="left:245.50px;top:937px;font-size:14.7px;letter-spacing:-0.374px;color:#828282;font-weight:700;">2 draws</div>
<div class="t" style="left:889.00px;top:992px;font-size:14.7px;letter-spacing:-0.317px;color:#4a9be6;">2026 EURO Groups</div>
<svg class="b" style="left:224px;top:1025px;" width="40" height="32" viewBox="0 0 40 32"><rect width="40" height="32" fill="#8a8a8a"/><rect x="1" y="1" width="38" height="15" fill="#ffffff"/><rect x="1" y="16" width="38" height="15" fill="#dc143c"/></svg>
<svg class="b" style="left:1641px;top:1025px;" width="40" height="32" viewBox="0 0 40 32"><rect width="40" height="32" fill="#8a8a8a"/><rect x="1" y="1" width="13" height="30" fill="#001e96"/><rect x="14" y="1" width="13" height="30" fill="#ffffff"/><rect x="27" y="1" width="12" height="30" fill="#ee2436"/></svg>
<div class="t" style="left:632.15px;top:1053px;font-size:20.5px;color:#cfcfcf;transform-origin:0 0;transform:scaleX(1.0262);font-weight:700;">0</div>
<div class="t" style="left:1261.15px;top:1053px;font-size:20.5px;color:#cfcfcf;transform-origin:0 0;transform:scaleX(1.0262);font-weight:700;">0</div>
<div class="b" style="left:944px;top:1057px;width:16px;height:2px;background:#d0d0d0;border-radius:1px;"></div>
<div class="b" style="left:944px;top:1062px;width:16px;height:2px;background:#d0d0d0;border-radius:1px;"></div>
<div class="b" style="left:944px;top:1067px;width:16px;height:2px;background:#d0d0d0;border-radius:1px;"></div>
<div class="t" style="left:222.50px;top:1077px;font-size:14.7px;letter-spacing:-0.455px;color:#c9c9c9;">Poland</div>
<div class="t" style="left:1640.00px;top:1077px;font-size:14.7px;letter-spacing:-0.551px;color:#c9c9c9;">France</div>
<div class="b" style="left:1816px;top:986px;width:64px;height:64px;background:#e03131;border-radius:32px;"></div>
<svg class="b" style="left:1840px;top:1010px;" width="16" height="16" viewBox="0 0 16 16"><path d="M1.5 1.5L14.5 14.5M14.5 1.5L1.5 14.5" stroke="#ffffff" stroke-width="2" stroke-linecap="round" fill="none"/></svg>
<div class="b" style="left:1905px;top:0px;width:15px;height:1080px;background:#262626;border-left:1px solid #2e2e2e;"></div>
<div class="b" style="left:1909px;top:2px;width:8px;height:612px;background:#636363;border-radius:4px;"></div>
</div></body></html>
